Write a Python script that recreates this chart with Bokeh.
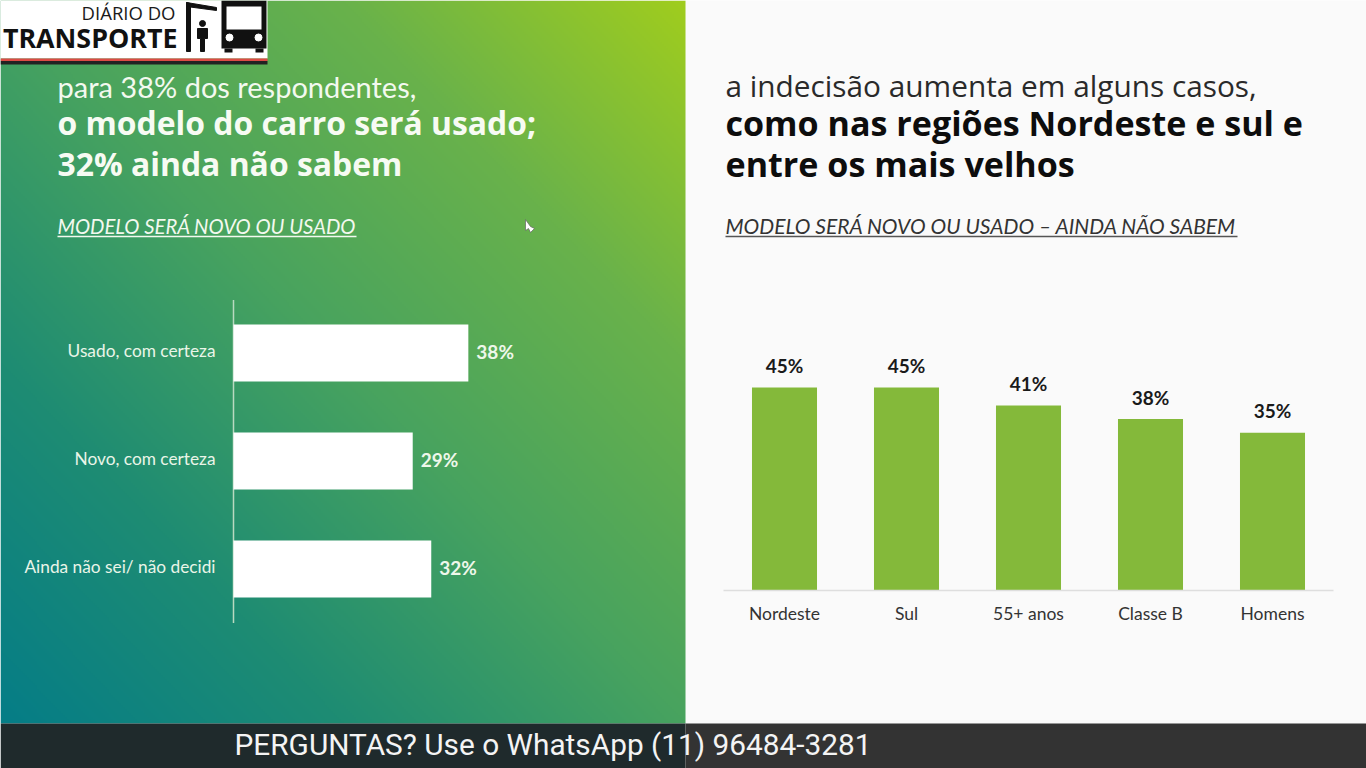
import numpy as np
from bokeh.plotting import figure
from bokeh.models import Range1d
from bokeh.core.properties import value
from bokeh.embed import file_html
from bokeh.resources import INLINE

# ---- data ----
left_categories = ["Usado, com certeza", "Novo, com certeza", "Ainda não sei/ não decidi"]
left_values = [38, 29, 32]
right_categories = ["Nordeste", "Sul", "55+ anos", "Classe B", "Homens"]
right_values = [45, 45, 41, 38, 35]

FONT = "Lato"
HEAD = "Open Sans"
W, H = 1366, 768
X0, Y0 = 0, 0
X1, Y1 = X0 + W, Y0 + H

p = figure(width=W, height=H, output_backend="svg", toolbar_location=None,
           x_range=Range1d(X0, X1), y_range=Range1d(Y1, Y0),
           min_border=0, outline_line_color=None, background_fill_color="#fafafa",
           border_fill_color="#fafafa", x_axis_type=None, y_axis_type=None)
p.grid.visible = False

# ranges of the two charts, expressed over the whole frame
LX0, LPX = 233, 6.18      # pixel of 0 %, pixels per %
LY0, LPY = 352.5, 108     # pixel of first category, pixels per category
RX0, RPX = 784, 122
RY0, RPY = 590, 4.51
p.extra_x_ranges = {"lval": Range1d((X0 - LX0) / LPX, (X1 - LX0) / LPX),
                    "rcat": Range1d((X0 - RX0) / RPX, (X1 - RX0) / RPX)}
p.extra_y_ranges = {"lcat": Range1d((Y1 - LY0) / LPY, (Y0 - LY0) / LPY),
                    "rval": Range1d((RY0 - Y1) / RPY, (RY0 - Y0) / RPY)}

# gradient panel
PANEL_R, PANEL_B = 685, 723
nx, ny = PANEL_R // 2, PANEL_B // 2
gx, gy = np.meshgrid(np.linspace(0, 1, nx), np.linspace(0, 1, ny))
t = (gx + (1 - gy)) / 2
stops = [0, .25, .5, .75, 1]
rgb = [[5, 30, 72, 105, 160], [125, 140, 163, 178, 205], [135, 115, 95, 75, 30]]
img = np.zeros((ny, nx), dtype=np.uint32)
view = img.view(dtype=np.uint8).reshape((ny, nx, 4))
for c in range(3):
    view[:, :, c] = np.interp(t, stops, rgb[c]).astype(np.uint8)
view[:, :, 3] = 255
p.image_rgba(image=[img], x=0, y=0, dw=PANEL_R, dh=PANEL_B)


def txt(x, y, s, size, color, style="normal", align="left", font=FONT, **kw):
    p.text(x=[x], y=[y], text=[s], text_font=value(font), text_font_size=f"{size}px",
           text_font_style=style, text_color=color, text_align=align,
           text_baseline="middle", **kw)


# left heading
WH = "#f3f9ef"
txt(57, 86, "para 38% dos respondentes,", 29, WH)
txt(57, 122, "o modelo do carro será usado;", 31.9, "#f7fbf3", "bold", font=HEAD)
txt(57, 163, "32% ainda não sabem", 31.9, "#f7fbf3", "bold", font=HEAD)
txt(57, 225, "MODELO SERÁ NOVO OU USADO", 20.3, WH, "italic")
p.segment(x0=[57], x1=[356], y0=[236], y1=[236], line_color=WH, line_width=1.5)

# right heading
txt(725, 85, "a indecisão aumenta em alguns casos,", 29.8, "#2a2a2a", font=HEAD)
txt(725, 122, "como nas regiões Nordeste e sul e", 34.1, "#0d0d0d", "bold", font=HEAD)
txt(725, 163, "entre os mais velhos", 34.1, "#0d0d0d", "bold", font=HEAD)
txt(725, 225, "MODELO SERÁ NOVO OU USADO – AINDA NÃO SABEM", 21, "#333333", "italic")
p.segment(x0=[725], x1=[1237], y0=[236], y1=[236], line_color="#555555", line_width=1.5)

# left chart
left_rank = list(range(len(left_categories)))
p.segment(x0=[0], x1=[0], y0=[-0.49], y1=[2.5], x_range_name="lval", y_range_name="lcat",
          line_color="#b9d9c0", line_width=1.5)
p.hbar(y=left_rank, left=0, right=left_values, height=0.53, x_range_name="lval", y_range_name="lcat",
       fill_color="#ffffff", line_color=None)
p.text(x=[0] * 3, y=left_rank, text=left_categories, x_range_name="lval", y_range_name="lcat",
       x_offset=-18, y_offset=-3, text_align="right", text_baseline="middle",
       text_font=value(FONT), text_font_size="17.3px", text_color="#eaf5e8")
p.text(x=left_values, y=left_rank, text=[f"{v}%" for v in left_values], x_range_name="lval",
       y_range_name="lcat", x_offset=8, y_offset=-1.5, text_align="left", text_baseline="middle",
       text_font=value(FONT), text_font_size="19px", text_font_style="bold", text_color="#eef7ea")

# right chart
right_rank = list(range(len(right_categories)))
p.vbar(x=right_rank, bottom=0, top=right_values, width=0.533, x_range_name="rcat", y_range_name="rval",
       fill_color="#84b93a", line_color=None)
p.segment(x0=[-0.5], x1=[4.5], y0=[0], y1=[0], x_range_name="rcat", y_range_name="rval",
          line_color="#dedede", line_width=1.5)
p.text(x=right_rank, y=right_values, text=[f"{v}%" for v in right_values], x_range_name="rcat",
       y_range_name="rval", y_offset=-22, text_align="center", text_baseline="middle",
       text_font=value(FONT), text_font_size="19px", text_font_style="bold", text_color="#1a1a1a")
p.text(x=right_rank, y=[0] * 5, text=right_categories, x_range_name="rcat", y_range_name="rval",
       y_offset=23, text_align="center", text_baseline="middle",
       text_font=value(FONT), text_font_size="17.5px", text_color="#333333")

# bottom strip
p.quad(left=[X0], right=[PANEL_R], top=[723], bottom=[Y1], fill_color="#1f2a2c", line_color=None)
p.quad(left=[PANEL_R], right=[X1], top=[723], bottom=[Y1], fill_color="#333333", line_color=None)
txt(234, 744, "PERGUNTAS? Use o WhatsApp (11) 96484-3281", 29.8, "#f4f4f4", font="Roboto")

# logo
p.quad(left=[X0], right=[267], top=[Y0], bottom=[58], fill_color="#ffffff", line_color=None)
p.quad(left=[X0], right=[267], top=[58], bottom=[60.5], fill_color="#dc4b45", line_color=None)
p.quad(left=[X0], right=[267], top=[60.5], bottom=[64], fill_color="#222222", line_color=None)
txt(175, 12, "DIÁRIO DO", 18.5, "#1a1a1a", align="right", font="Open Sans")
txt(177, 37, "TRANSPORTE", 26.8, "#111111", "bold", align="right", font="Open Sans")
# shelter
p.patch(x=[186, 190, 190, 186], y=[2, 3, 51, 51], color="#111111")
p.patch(x=[186, 216, 216, 186], y=[2, 7, 10, 6], color="#111111")
# person
p.circle(x=[202], y=[23], radius=3, color="#111111")
p.patch(x=[197, 207, 207, 204, 204, 200, 200, 197], y=[28, 28, 38, 38, 51, 51, 38, 38], color="#111111")
# bus
p.quad(left=[221], right=[266], top=[Y0], bottom=[48], fill_color="#111111", line_color=None)
p.quad(left=[226], right=[261], top=[6], bottom=[29], fill_color="#ffffff", line_color=None)
p.quad(left=[224], right=[232], top=[48], bottom=[52], fill_color="#111111", line_color=None)
p.quad(left=[255], right=[263], top=[48], bottom=[52], fill_color="#111111", line_color=None)
p.circle(x=[229, 258], y=[37, 37], radius=3.5, color="#ffffff")

# mouse pointer
p.patch(x=[525, 525, 528, 530, 534, 530], y=[219, 230, 228, 232, 228, 226],
        fill_color="#ffffff", line_color="#666666", line_width=0.7)

open("out.html", "w").write(file_html(p, INLINE))
